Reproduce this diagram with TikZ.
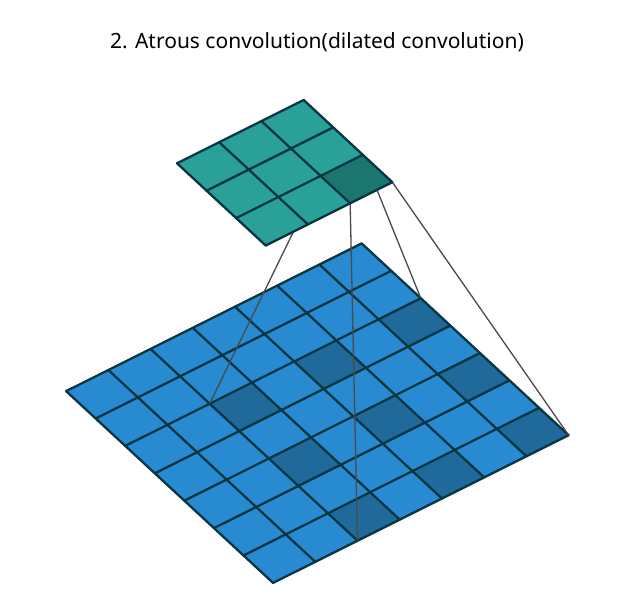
\documentclass[tikz,border=0pt]{standalone}
\usepackage{fontspec}
\setmainfont{Noto Sans}
\definecolor{blueA}{HTML}{288BD2}
\definecolor{blueD}{HTML}{1F699B}
\definecolor{tealA}{HTML}{2AA198}
\definecolor{tealD}{HTML}{1B7670}
\definecolor{gridc}{HTML}{073642}
\definecolor{conn}{HTML}{4A4A4A}
\tikzset{
  gridline/.style={draw=gridc, line width=2.3pt, line join=round, line cap=round},
  connline/.style={draw=conn, line width=1.3pt},
  title/.style={font=\fontsize{21}{24}\selectfont, text=black, inner sep=0pt}
}
\begin{document}
\begin{tikzpicture}[x=1pt,y=-1pt]
\useasboundingbox (0,0) rectangle (626,595);
\node[title] (title) at (317,42) {2. Atrous convolution(dilated convolution)};
% bottom grid points
\foreach \i in {0,...,7}{
  \foreach \j in {0,...,7}{
    \coordinate (b-\i-\j) at ({66.1+\i*42.22+\j*29.57},{391.1-\i*21.1+\j*27.4});
  }
}
% top grid points
\foreach \i in {0,...,3}{
  \foreach \j in {0,...,3}{
    \coordinate (t-\i-\j) at ({177.0+\i*42.22+\j*29.57},{163.3-\i*21.1+\j*27.4});
  }
}
% bottom cells
\foreach \i in {0,...,6}{
  \foreach \j in {0,...,6}{
    \pgfmathtruncatemacro{\ii}{\i+1}
    \pgfmathtruncatemacro{\jj}{\j+1}
    \pgfmathtruncatemacro{\dk}{(mod(\i,2)==0)&&(mod(\j,2)==0)&&(\i>0)&&(\j>0)}
    \ifnum\dk=1
      \fill[blueD] (b-\i-\j) -- (b-\ii-\j) -- (b-\ii-\jj) -- (b-\i-\jj) -- cycle;
    \else
      \fill[blueA] (b-\i-\j) -- (b-\ii-\j) -- (b-\ii-\jj) -- (b-\i-\jj) -- cycle;
    \fi
  }
}
\foreach \k in {0,...,7}{
  \draw[gridline] (b-0-\k) -- (b-7-\k);
  \draw[gridline] (b-\k-0) -- (b-\k-7);
}
% connectors
\draw[connline] (t-2-2) -- (b-2-2);
\draw[connline] (t-2-3) -- (b-2-7);
\draw[connline] (t-3-3) -- (b-7-7);
\draw[connline] (t-3-2) -- (b-7-2);
% top cells
\foreach \i in {0,...,2}{
  \foreach \j in {0,...,2}{
    \pgfmathtruncatemacro{\ii}{\i+1}
    \pgfmathtruncatemacro{\jj}{\j+1}
    \pgfmathtruncatemacro{\dk}{(\i==2)&&(\j==2)}
    \ifnum\dk=1
      \fill[tealD] (t-\i-\j) -- (t-\ii-\j) -- (t-\ii-\jj) -- (t-\i-\jj) -- cycle;
    \else
      \fill[tealA] (t-\i-\j) -- (t-\ii-\j) -- (t-\ii-\jj) -- (t-\i-\jj) -- cycle;
    \fi
  }
}
\foreach \k in {0,...,3}{
  \draw[gridline] (t-0-\k) -- (t-3-\k);
  \draw[gridline] (t-\k-0) -- (t-\k-3);
}
\end{tikzpicture}
\end{document}
